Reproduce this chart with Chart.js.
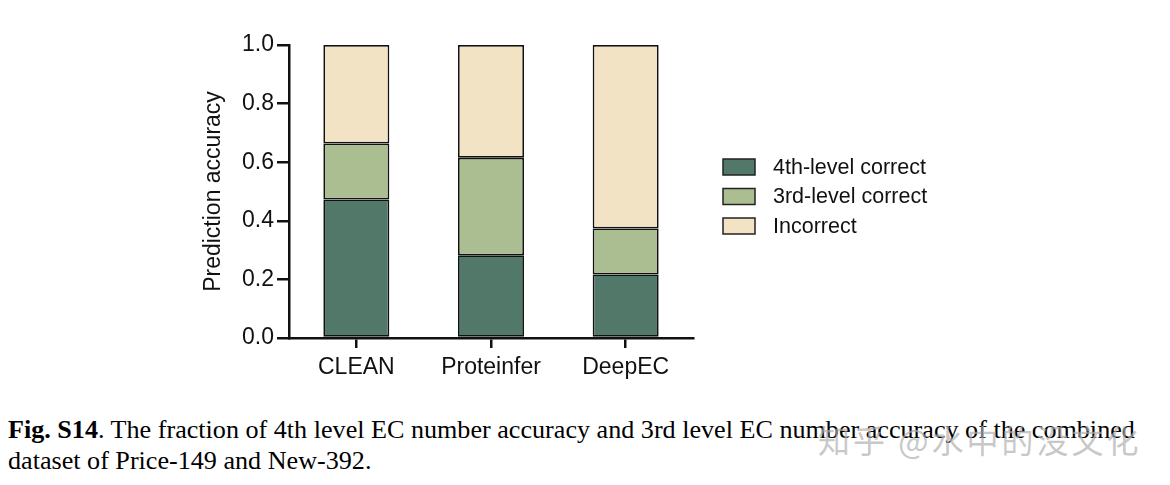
<!DOCTYPE html>
<html><head><meta charset="utf-8">
<script src="https://cdn.jsdelivr.net/npm/chart.js@4/dist/chart.umd.min.js"></script>
<style>
html,body{margin:0;padding:0;background:#fff;width:1170px;height:485px;overflow:hidden;}
#wrap{position:absolute;left:0;top:0;width:1170px;height:400px;}
#cap{position:absolute;left:8px;top:414px;font-family:"Liberation Serif","Times New Roman",serif;font-size:25px;line-height:31px;color:#000;white-space:nowrap;transform-origin:0 0;transform:scaleX(1.045);}
#wm{position:absolute;left:818px;top:416px;font-family:"Noto Sans CJK SC",sans-serif;font-size:32px;color:rgba(175,175,175,0.7);letter-spacing:3px;white-space:nowrap;}
</style></head>
<body>
<div id="wrap"><canvas id="c" width="1170" height="400"></canvas></div>
<div id="cap"><b>Fig. S14</b>. The fraction of 4th level EC number accuracy and 3rd level EC number accuracy of the combined<br>dataset of Price-149 and New-392.</div>
<div id="wm">知乎 @水中的没文化</div>
<script>
const categories = ["CLEAN", "Proteinfer", "DeepEC"];
const fourthLevel = [0.473, 0.282, 0.217];
const thirdLevel = [0.191, 0.333, 0.157];
const incorrect = [0.336, 0.385, 0.626];
const seriesNames = ["4th-level correct", "3rd-level correct", "Incorrect"];
const yTicks = [0, 0.2, 0.4, 0.6, 0.8, 1.0];

const colors = ["#52786a", "#abbe92", "#f2e3c4"];
const font = "'Liberation Sans', Arial, sans-serif";

const legendPlugin = {
  id: 'customLegend',
  afterDraw(chart) {
    const ctx = chart.ctx;
    ctx.save();
    chart.data.datasets.forEach((ds, i) => {
      const y = 167 + i * 29.5;
      ctx.fillStyle = ds.backgroundColor;
      ctx.fillRect(723, y - 8, 32, 16);
      ctx.strokeStyle = '#222';
      ctx.lineWidth = 1.5;
      ctx.strokeRect(723, y - 8, 32, 16);
      ctx.fillStyle = '#111';
      ctx.font = "21.5px " + font;
      ctx.textBaseline = 'middle';
      ctx.textAlign = 'left';
      ctx.fillText(ds.label, 773, y + 1);
    });
    ctx.restore();
  }
};

const mk = (label, data, i) => ({
  label, data, backgroundColor: colors[i], borderColor: '#111', borderWidth: 1.7,
  borderSkipped: false, barPercentage: 0.49, categoryPercentage: 1.0
});

new Chart(document.getElementById('c'), {
  type: 'bar',
  data: {
    labels: categories,
    datasets: [
      mk(seriesNames[0], fourthLevel, 0),
      mk(seriesNames[1], thirdLevel, 1),
      mk(seriesNames[2], incorrect, 2)
    ]
  },
  options: {
    responsive: false,
    animation: false,
    devicePixelRatio: 1,
    layout: { padding: { left: 200, top: 45, right: 477, bottom: 12 } },
    plugins: { legend: { display: false }, tooltip: { enabled: false } },
    scales: {
      x: {
        stacked: true,
        afterFit(s) { s.height = 50; },
        grid: { offset: false, drawOnChartArea: false, drawTicks: true, tickLength: 10, color: '#111', lineWidth: 2.5 },
        border: { display: true, color: '#111', width: 2.5 },
        ticks: { color: '#111', font: { family: font, size: 23 }, padding: 6 }
      },
      y: {
        stacked: true,
        min: 0, max: 1,
        afterFit(s) { s.width = 89; },
        afterBuildTicks(s) { s.ticks = yTicks.map(v => ({ value: v })); },
        grid: { drawOnChartArea: false, drawTicks: true, tickLength: 12, color: '#111', lineWidth: 2.5 },
        border: { display: true, color: '#111', width: 2.5 },
        ticks: { color: '#111', font: { family: font, size: 23 }, padding: 3, callback: v => Number(v).toFixed(1) },
        title: { display: true, text: 'Prediction accuracy', color: '#111', font: { family: font, size: 23 }, padding: 0 }
      }
    }
  },
  plugins: [legendPlugin]
});
</script>
</body></html>
